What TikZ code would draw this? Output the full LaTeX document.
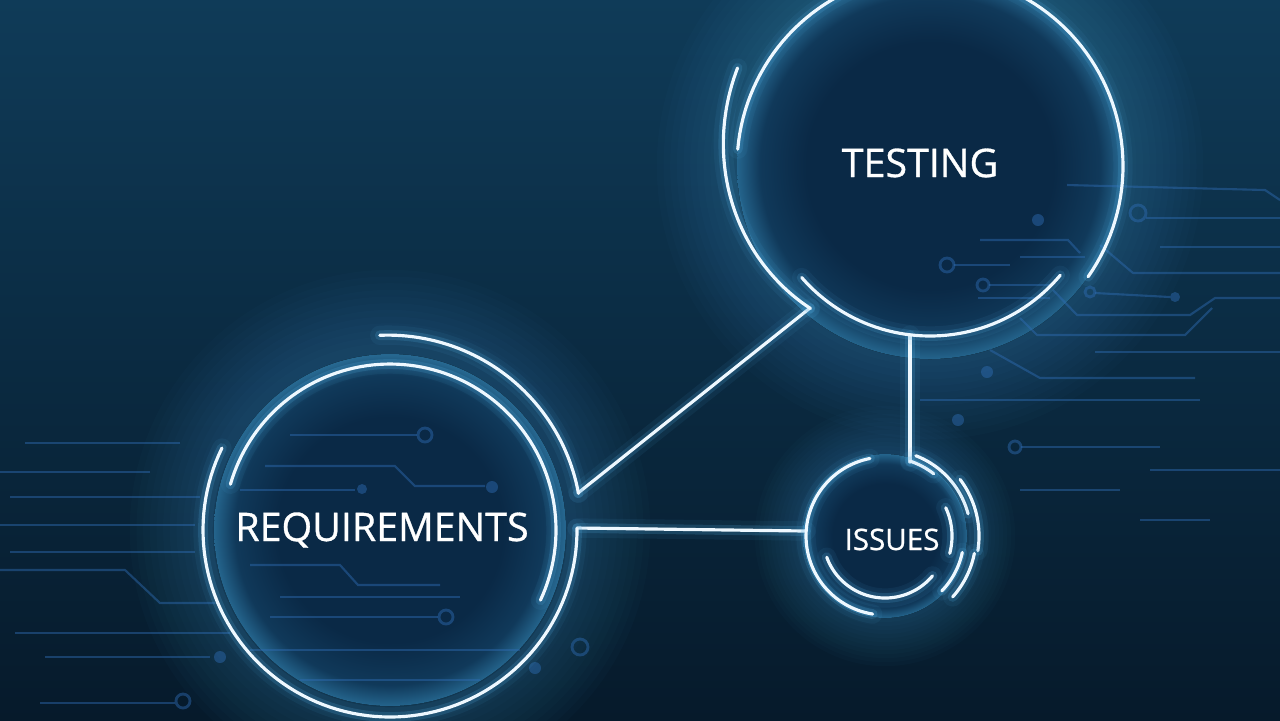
\documentclass[tikz,border=0pt]{standalone}
\usepackage{fontspec}
\setmainfont{Open Sans}
\newfontfamily\lblfont{Open Sans}[FakeBold=0.8]
\definecolor{bgtop}{HTML}{0F3B58}
\definecolor{bgbot}{HTML}{061A2B}
\definecolor{glowc}{HTML}{4FA8DC}
\definecolor{tracec}{HTML}{2F6DB5}
\definecolor{innerc}{HTML}{0A2946}
\definecolor{rimmid}{HTML}{10395A}
\definecolor{rimc}{HTML}{24648C}
\definecolor{linec}{HTML}{EEF8FF}
\pgfdeclareradialshading{discsh}{\pgfpoint{0bp}{0bp}}{color(0bp)=(innerc); color(16bp)=(innerc); color(22bp)=(rimmid); color(25bp)=(rimc); color(50bp)=(rimc)}
\newcommand\glowline[1]{%
  \draw[glowc, opacity=0.08, line width=5.5pt, line cap=round] #1;
  \draw[glowc, opacity=0.2, line width=2.8pt, line cap=round] #1;
  \draw[linec, line width=0.9pt, line cap=round] #1;}
\newcommand\halo[4]{%
  \foreach \k in {1,...,12}{%
    \draw[glowc, opacity=0.022, line width=#4*\k*0.19pt] (#1,#2) circle (#3);}}
\tikzset{
  trace/.style={draw=tracec, opacity=0.45, line width=0.6pt},
  tdot/.style={fill=tracec, opacity=0.45},
  tring/.style={draw=tracec, opacity=0.45, line width=0.8pt},
  lbl/.style={text=white, inner sep=0pt, anchor=base}
}
\begin{document}
\begin{tikzpicture}[x=0.01cm,y=-0.01cm]
\useasboundingbox (0,0) rectangle (1280,720);
% background
\shade[top color=bgtop, bottom color=bgbot] (0,0) rectangle (1280,720);
% halos
\halo{930}{166}{193}{20}
\halo{390}{530}{180}{20}
\halo{885}{536}{82}{12}
% discs
\fill[shading=discsh] (930,166) circle (193);
\fill[shading=discsh] (390,530) circle (176);
\fill[shading=discsh] (885,536) circle (82);
% circuit traces, left
\draw[trace] (25,443) -- (180,443);
\draw[trace] (0,472) -- (150,472);
\draw[trace] (10,497) -- (200,497);
\draw[trace] (0,525) -- (195,525);
\draw[trace] (10,552) -- (195,552);
\draw[trace] (0,570) -- (125,570) -- (160,603) -- (215,603);
\draw[trace] (15,633) -- (230,633);
\draw[trace] (45,657) -- (210,657);
\fill[tdot] (220,657) circle (6);
\draw[trace] (40,703) -- (175,703);
\draw[tring] (183,701) circle (7);
% traces inside requirements
\draw[trace] (290,435) -- (417,435);
\draw[tring] (425,435) circle (7);
\draw[trace] (265,466) -- (395,466) -- (415,486) -- (485,486);
\fill[tdot] (492,487) circle (6);
\draw[trace] (240,490) -- (355,490);
\fill[tdot] (362,489) circle (5);
\draw[trace] (250,565) -- (340,565) -- (358,585) -- (440,585);
\draw[trace] (280,597) -- (460,597);
\draw[trace] (270,617) -- (438,617);
\draw[tring] (446,617) circle (7);
\draw[trace] (250,650) -- (520,650);
\draw[tring] (580,647) circle (8);
\draw[trace] (300,680) -- (480,680);
\fill[tdot] (535,668) circle (6);
% traces right
\draw[trace] (1067,185) -- (1265,190) -- (1280,200);
\draw[tring] (1138,213) circle (8);
\draw[trace] (1146,218) -- (1280,218);
\draw[trace] (1160,247) -- (1280,247);
\draw[trace] (1100,245) -- (1133,273) -- (1280,273);
\draw[trace] (980,240) -- (1068,240) -- (1080,253);
\draw[trace] (1020,257) -- (1085,257);
\fill[tdot] (1038,220) circle (6);
\draw[tring] (947,265) circle (7);
\draw[trace] (954,265) -- (1010,265);
\draw[tring] (983,285) circle (6);
\draw[trace] (989,285) -- (1050,285);
\draw[trace] (978,298) -- (1050,298);
\draw[tring] (1090,292) circle (5);
\draw[trace] (1095,293) -- (1170,297);
\fill[tdot] (1175,297) circle (5);
\draw[trace] (1053,290) -- (1077,315) -- (1190,315) -- (1215,298) -- (1280,298);
\draw[trace] (1020,318) -- (1037,335) -- (1185,335) -- (1212,308);
\draw[trace] (1095,352) -- (1280,352);
\draw[trace] (990,350) -- (1040,378) -- (1195,378);
\fill[tdot] (987,372) circle (6);
\draw[trace] (920,400) -- (1200,400);
\fill[tdot] (958,420) circle (6);
\draw[tring] (1015,447) circle (6);
\draw[trace] (1021,447) -- (1160,447);
\draw[trace] (1150,470) -- (1280,470);
\draw[trace] (1140,520) -- (1210,520);
\draw[trace] (1020,490) -- (1120,490);
% named anchor points for connectors
\coordinate (reqT) at (578,493);
\coordinate (reqR) at (577,528);
\coordinate (testL) at (810,308);
\coordinate (testB) at (910,335);
\coordinate (issL) at (806,531);
\coordinate (issT) at (910,462);
% connectors
\glowline{(reqT) -- (testL)}
\glowline{(reqR) -- (issL)}
\glowline{(testB) -- (issT)}
% TESTING rings
\glowline{plot[domain=185:395, samples=90] ({930+193*cos(\x)},{166+193*sin(\x)})}
\glowline{plot[domain=40:139, samples=50] ({930+170*cos(\x)},{166+170*sin(\x)})}
\glowline{plot[domain=130:207, samples=50] ({930+(186+30*(\x-130)/77)*cos(\x)},{166+(186+30*(\x-130)/77)*sin(\x)})}
% REQUIREMENTS rings
\glowline{plot[domain=196:385, samples=90] ({390+166*cos(\x)},{530+166*sin(\x)})}
\glowline{plot[domain=267:349, samples=50] ({390+(195-3*(\x-267)/82)*cos(\x)},{530+(195-3*(\x-267)/82)*sin(\x)})}
\glowline{plot[domain=-0.5:206, samples=90] ({390+187*cos(\x)},{530+187*sin(\x)})}
% ISSUES rings
\glowline{plot[domain=99:259, samples=60] ({885+79*cos(\x)},{536+79*sin(\x)})}
\glowline{plot[domain=-71.5:-52, samples=20] ({885+79*cos(\x)},{536+79*sin(\x)})}
\glowline{plot[domain=-69:-15, samples=30] ({885+86*cos(\x)},{536+86*sin(\x)})}
\glowline{plot[domain=-37:9, samples=30] ({885+94*cos(\x)},{536+94*sin(\x)})}
\glowline{plot[domain=11:42, samples=20] ({885+91*cos(\x)},{536+91*sin(\x)})}
\glowline{plot[domain=-25:15, samples=30] ({885+67*cos(\x)},{536+67*sin(\x)})}
\glowline{plot[domain=12:44, samples=20] ({885+79*cos(\x)},{536+79*sin(\x)})}
\glowline{plot[domain=40:160, samples=50] ({885+62*cos(\x)},{536+62*sin(\x)})}
% labels
\node[lbl, font=\lblfont\fontsize{11.2}{13}\selectfont] (req) at (382,541) {REQUIREMENTS};
\node[lbl, font=\lblfont\fontsize{11.2}{13}\selectfont] (test) at (920,177) {TESTING};
\node[lbl, font=\lblfont\fontsize{8.4}{10}\selectfont] (iss) at (892,550) {ISSUES};
\end{tikzpicture}
\end{document}
